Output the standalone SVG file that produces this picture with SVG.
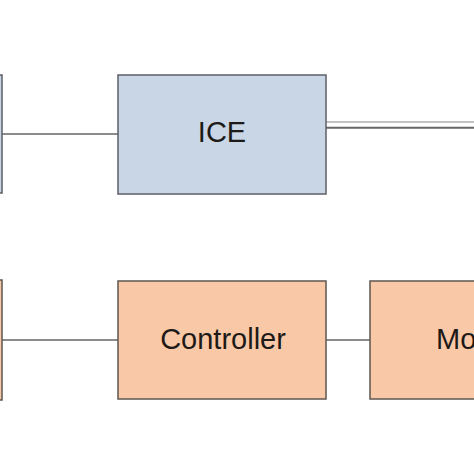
<svg xmlns="http://www.w3.org/2000/svg" width="474" height="474" viewBox="0 0 474 474">
<style>
.blue{fill:#c9d6e6;stroke:#5c5f66;stroke-width:1.5}
.orange{fill:#f9c9a7;stroke:#5e5650;stroke-width:1.5}
.lbl{font-family:"Liberation Sans",Arial,sans-serif;font-size:29px;fill:#1e1a18;text-anchor:middle}
.conn{stroke:#666;stroke-width:1.7;fill:none}
</style>
<rect width="474" height="474" fill="#ffffff"/>
<g id="connectors">
<line class="conn" x1="2" y1="134" x2="118" y2="134"/>
<line x1="326" y1="122" x2="474" y2="122" stroke="#b0b0b0" stroke-width="1.7"/>
<line x1="326" y1="127.7" x2="474" y2="127.7" stroke="#666" stroke-width="1.9"/>
<line class="conn" x1="2" y1="340" x2="118" y2="340"/>
<line class="conn" x1="326" y1="340" x2="370" y2="340"/>
</g>
<g id="node-left-top"><rect class="blue" x="-50" y="75" width="52" height="118"/></g>
<g id="node-left-bottom"><rect class="orange" x="-50" y="280" width="52" height="120"/></g>
<g id="node-ice"><rect class="blue" x="118" y="75" width="208" height="119"/><text class="lbl" x="222" y="142" font-size="28.5">ICE</text></g>
<g id="node-controller"><rect class="orange" x="118" y="281" width="208" height="118"/><text class="lbl" x="223" y="349">Controller</text></g>
<g id="node-motor"><rect class="orange" x="370" y="281" width="130" height="118"/><text x="436" y="349" font-family="'Liberation Sans',Arial,sans-serif" font-size="29" fill="#1e1a18">Mo</text></g>
</svg>
